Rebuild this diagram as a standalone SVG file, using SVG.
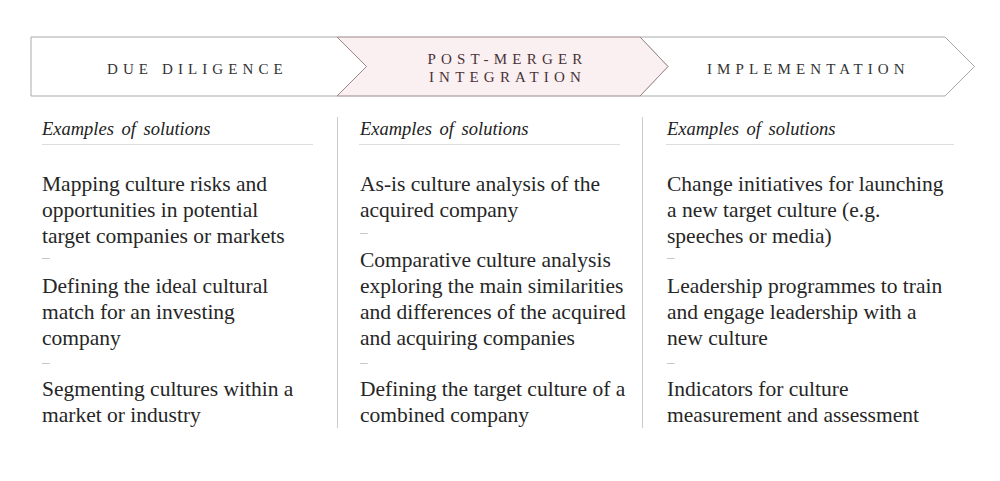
<svg xmlns="http://www.w3.org/2000/svg" width="1000" height="481" viewBox="0 0 1000 481">
<style>
.bg{fill:#ffffff}
.chev{fill:#ffffff;stroke:#aaaaaa;stroke-width:1}
.chev-active{fill:#faf0f1;stroke:#9a8688;stroke-width:1}
.stage{font-family:"Liberation Serif","DejaVu Serif",serif;font-size:15px;letter-spacing:5.1px;fill:#333333}
.stage-active{font-family:"Liberation Serif","DejaVu Serif",serif;font-size:15px;letter-spacing:5.2px;fill:#4a3236}
.head{font-family:"Liberation Serif","DejaVu Serif",serif;font-style:italic;font-size:18.5px;fill:#222222;word-spacing:3px}
.rule{stroke:#dddddd;stroke-width:1}
.divider{stroke:#cccccc;stroke-width:1}
.body{font-family:"Liberation Serif","DejaVu Serif",serif;font-size:21.5px;fill:#262626}
.dash{font-family:"Liberation Serif","DejaVu Serif",serif;font-size:15px;fill:#bbbbbb}
</style>
<rect class="bg" x="0" y="0" width="1000" height="481"/>

<g id="stage-due-diligence">
  <polygon class="chev" points="31,37 337,37 366.5,66.5 337,96 31,96"/>
  <text class="stage" x="107" y="73.5">DUE DILIGENCE</text>
</g>
<g id="stage-implementation">
  <polygon class="chev" points="640,37 945,37 974.5,66.5 945,96 640,96 668,66.5"/>
  <text class="stage" x="707" y="73.5">IMPLEMENTATION</text>
</g>
<g id="stage-post-merger">
  <polygon class="chev-active" points="337,37 640,37 668,66.5 640,96 337,96 366.5,66.5"/>
  <text class="stage-active" x="507.5" y="63.5" text-anchor="middle">POST-MERGER<tspan x="507.5" dy="18.5">INTEGRATION</tspan></text>
</g>

<g id="dividers">
  <line class="divider" x1="337.5" y1="117" x2="337.5" y2="428"/>
  <line class="divider" x1="642.5" y1="117" x2="642.5" y2="428"/>
</g>

<g id="col-due-diligence">
  <text class="head" x="42" y="135">Examples of solutions</text>
  <line class="rule" x1="42" y1="144.5" x2="313" y2="144.5"/>
  <text class="body" x="42" y="191">Mapping culture risks and</text>
  <text class="body" x="42" y="217">opportunities in potential</text>
  <text class="body" x="42" y="243">target companies or markets</text>
  <text class="dash" x="42" y="261.5">–</text>
  <text class="body" x="42" y="293">Defining the ideal cultural</text>
  <text class="body" x="42" y="319">match for an investing</text>
  <text class="body" x="42" y="345">company</text>
  <text class="dash" x="42" y="366.5">–</text>
  <text class="body" x="42" y="396">Segmenting cultures within a</text>
  <text class="body" x="42" y="422">market or industry</text>
</g>

<g id="col-post-merger">
  <text class="head" x="360" y="135">Examples of solutions</text>
  <line class="rule" x1="359" y1="144.5" x2="620" y2="144.5"/>
  <text class="body" x="360" y="191">As-is culture analysis of the</text>
  <text class="body" x="360" y="217">acquired company</text>
  <text class="dash" x="360" y="236.5">–</text>
  <text class="body" x="360" y="267">Comparative culture analysis</text>
  <text class="body" x="360" y="293">exploring the main similarities</text>
  <text class="body" x="360" y="319">and differences of the acquired</text>
  <text class="body" x="360" y="345">and acquiring companies</text>
  <text class="dash" x="360" y="366.5">–</text>
  <text class="body" x="360" y="396">Defining the target culture of a</text>
  <text class="body" x="360" y="422">combined company</text>
</g>

<g id="col-implementation">
  <text class="head" x="667" y="135">Examples of solutions</text>
  <line class="rule" x1="666" y1="144.5" x2="954" y2="144.5"/>
  <text class="body" x="667" y="191">Change initiatives for launching</text>
  <text class="body" x="667" y="217">a new target culture (e.g.</text>
  <text class="body" x="667" y="243">speeches or media)</text>
  <text class="dash" x="667" y="261.5">–</text>
  <text class="body" x="667" y="293">Leadership programmes to train</text>
  <text class="body" x="667" y="319">and engage leadership with a</text>
  <text class="body" x="667" y="345">new culture</text>
  <text class="dash" x="667" y="366.5">–</text>
  <text class="body" x="667" y="396">Indicators for culture</text>
  <text class="body" x="667" y="422">measurement and assessment</text>
</g>
</svg>
